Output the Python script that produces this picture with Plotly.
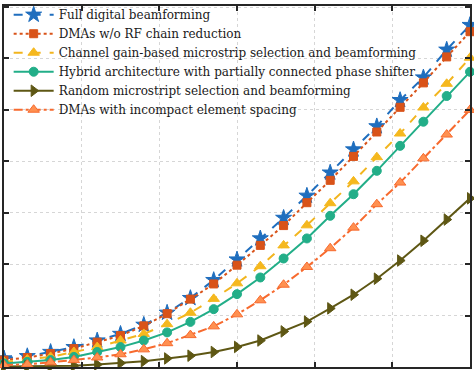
import plotly.graph_objects as go

x_vals = list(range(0, 61, 3))

full_digital = [1.66, 2.1, 2.92, 3.87, 5.15, 6.43, 8.2, 10.55, 13.4, 16.9, 20.9, 25.0, 29.0,
                33.3, 37.8, 42.3, 46.8, 51.9, 56.3, 61.7, 66.5]
dma_no_reduction = [1.34, 1.85, 2.61, 3.57, 4.83, 6.1, 8.0, 10.36, 13.2, 16.15, 19.8, 23.65, 27.5,
                    31.95, 36.3, 40.95, 45.7, 50.5, 55.25, 60.3, 65.2]
channel_gain = [1.0, 1.47, 1.96, 2.92, 3.87, 5.15, 6.43, 8.33, 10.55, 13.25, 16.27, 19.6, 23.65,
                27.55, 31.85, 36.1, 40.8, 45.4, 50.45, 55.07, 60.14]
hybrid = [0.7, 1.0, 1.34, 1.96, 2.92, 3.87, 5.15, 6.73, 8.77, 11.25, 14.17, 17.41, 21.1,
          25.0, 29.4, 33.6, 38.15, 43.0, 47.7, 52.7, 57.4]
random_sel = [0.1, 0.13, 0.19, 0.25, 0.48, 0.76, 1.14, 1.66, 2.2, 2.92, 3.9, 5.15, 6.92,
              8.83, 11.4, 14.06, 17.17, 20.7, 24.55, 28.67, 32.8]
incompact = [0.38, 0.51, 0.9, 1.34, 1.85, 2.48, 3.43, 4.63, 6.2, 7.9, 10.24, 12.97, 16.0,
             19.45, 23.1, 27.1, 31.66, 35.86, 40.57, 45.2, 50.0]

names = [
    "Full digital beamforming",
    "DMAs w/o RF chain reduction",
    "Channel gain-based microstrip selection and beamforming",
    "Hybrid architecture with partially connected phase shifter",
    "Random microstript selection and beamforming",
    "DMAs with incompact element spacing",
]

series = [full_digital, dma_no_reduction, channel_gain, hybrid, random_sel, incompact]
styles = [
    dict(color="#1F6EBE", dash="dash", symbol="star", size=12, mcolor="#1F6EBE", mline="#1F6EBE"),
    dict(color="#D95319", dash="dot", symbol="square", size=8, mcolor="#D95319", mline="#D95319"),
    dict(color="#F2B51E", dash="dash", symbol="triangle-up", size=10, mcolor="#F5B81E", mline="#F5B81E"),
    dict(color="#22AE88", dash="solid", symbol="circle", size=9, mcolor="#22AE88", mline="#22AE88"),
    dict(color="#5E5714", dash="solid", symbol="triangle-right", size=10, mcolor="#5E5714", mline="#5E5714"),
    dict(color="#F76A2E", dash="dashdot", symbol="triangle-up", size=10, mcolor="#FF9050", mline="#F76A2E"),
]

fig = go.Figure()
for name, ys, st in zip(names, series, styles):
    fig.add_trace(go.Scatter(
        x=x_vals, y=ys, name=name, mode="lines+markers",
        line=dict(color=st["color"], width=2, dash=st["dash"]),
        marker=dict(symbol=st["symbol"], size=st["size"], color=st["mcolor"],
                    line=dict(color=st["mline"], width=1)),
        cliponaxis=False,
    ))

axis_common = dict(
    showticklabels=False, ticks="inside", ticklen=5, tickcolor="#262626", tickwidth=1.5,
    showline=True, linecolor="#262626", linewidth=1.5, mirror="ticks",
    showgrid=True, gridcolor="#D6D6D6", gridwidth=1, griddash="dot", zeroline=False,
)

fig.update_xaxes(range=[0, 60], dtick=10, **axis_common)
fig.update_yaxes(range=[0, 70.2], dtick=10, **axis_common)

fig.update_layout(
    width=474, height=370,
    margin=dict(l=4, r=4, t=0, b=3),
    paper_bgcolor="white", plot_bgcolor="white",
    font=dict(family="DejaVu Serif", size=12, color="#1a1a1a"),
    showlegend=True,
    legend=dict(x=0.01, y=1.016, xanchor="left", yanchor="top",
                bgcolor="rgba(255,255,255,0)", borderwidth=0,
                itemwidth=40, tracegroupgap=0,
                font=dict(family="DejaVu Serif", size=12)),
)

fig.write_html(
    "out.html",
    config={"displayModeBar": False},
    post_script="document.body.style.margin='0';document.body.style.overflow='hidden';",
)
